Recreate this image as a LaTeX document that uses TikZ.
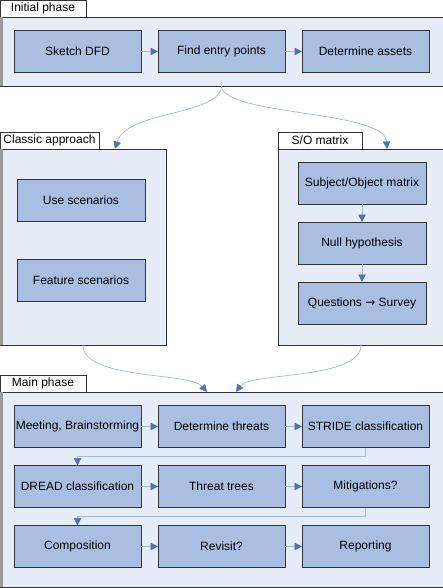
\documentclass[tikz,border=0pt]{standalone}
\usepackage{fontspec}
\setmainfont{Liberation Sans}
\newfontfamily\arrowfont{DejaVu Sans}
\usetikzlibrary{positioning,arrows.meta}
\definecolor{boxfill}{HTML}{A9BFE2}
\definecolor{panelfill}{HTML}{E7EDF7}
\definecolor{linecol}{HTML}{A3BADB}
\definecolor{tipcol}{HTML}{4A74BC}
\definecolor{edgecol}{HTML}{333333}
\definecolor{sidecol}{HTML}{9A9A9A}

\tikzset{
  stage/.style={draw=edgecol, line width=0.9pt, fill=boxfill, minimum width=127pt, minimum height=42pt, inner sep=1pt, outer sep=0pt, font=\fontsize{12}{14}\selectfont},
  panel/.style={draw=edgecol, line width=0.9pt, fill=panelfill, anchor=north west, inner sep=0pt, outer sep=0pt},
  tab/.style={draw=edgecol, line width=0.8pt, fill=white, anchor=south west, minimum height=17pt, inner sep=0pt, outer sep=0pt, font=\fontsize{12}{14}\selectfont},
  side/.style={draw=sidecol, line width=5pt},
  flow/.style={draw=linecol, line width=0.7pt, -{Triangle[length=7.5pt,width=7.5pt,color=tipcol]}}
}

\begin{document}
\begin{tikzpicture}[x=1pt, y=-1pt, node distance=17pt]
    \useasboundingbox (0,0) rectangle (443,588);
    \clip (0,0) rectangle (443,588);

    % Panels and their tabs
    \node (initpanel) [panel, minimum width=446pt, minimum height=69pt] at (0,17) {};
    \node (inittab) [tab, minimum width=86pt] at (0,17) {Initial phase};
    \node (classicpanel) [panel, minimum width=166pt, minimum height=196pt] at (0,149) {};
    \node (classictab) [tab, minimum width=99pt] at (0,149) {Classic approach};
    \node (sopanel) [panel, minimum width=166pt, minimum height=196pt] at (278,149) {};
    \node (sotab) [tab, minimum width=84pt] at (278,149) {S/O matrix};
    \node (mainpanel) [panel, minimum width=446pt, minimum height=195pt] at (0,392) {};
    \node (maintab) [tab, minimum width=86pt] at (0,392) {Main phase};
    \draw[side] (initpanel.north west) -- (initpanel.south west);
    \draw[side] (classicpanel.north west) -- (classicpanel.south west);
    \draw[side] (mainpanel.north west) -- (mainpanel.south west);

    % Initial phase
    \node (sketch) [stage] at (77.5,51.5) {Sketch DFD};
    \node (entry) [stage, right=of sketch] {Find entry points};
    \node (assets) [stage, right=of entry] {Determine assets};

    % Classic approach
    \node (use) [stage, minimum width=128pt] at (81,200.5) {Use scenarios};
    \node (feature) [stage, minimum width=128pt, below=38pt of use] {Feature scenarios};

    % S/O matrix
    \node (subject) [stage, minimum width=128pt] at (362,183) {Subject/Object matrix};
    \node (nullhyp) [stage, minimum width=128pt, below=18pt of subject] {Null hypothesis};
    \node (survey) [stage, minimum width=128pt, below=18pt of nullhyp] {Questions {\arrowfont →} Survey};

    % Main phase
    \node (meeting) [stage] at (77.5,426.5) {Meeting, Brainstorming};
    \node (threats) [stage, right=of meeting] {Determine threats};
    \node (stride) [stage, right=of threats] {STRIDE classification};
    \node (dread) [stage, below=18pt of meeting] {DREAD classification};
    \node (trees) [stage, right=of dread] {Threat trees};
    \node (mitig) [stage, right=of trees] {Mitigations?};
    \node (compo) [stage, below=18pt of dread] {Composition};
    \node (revisit) [stage, right=of compo] {Revisit?};
    \node (report) [stage, right=of revisit] {Reporting};

    % Arrows
    \draw[flow] (sketch) -- (entry);
    \draw[flow] (entry) -- (assets);
    \draw[flow] (subject) -- (nullhyp);
    \draw[flow] (nullhyp) -- (survey);
    \draw[flow] (meeting) -- (threats);
    \draw[flow] (threats) -- (stride);
    \draw[flow] (stride.south) -- ++(0,9) -| (dread.north);
    \draw[flow] (dread) -- (trees);
    \draw[flow] (trees) -- (mitig);
    \draw[flow] (mitig.south) -- ++(0,9) -| (compo.north);
    \draw[flow] (compo) -- (revisit);
    \draw[flow] (revisit) -- (report);

    % Curved links between the phases
    \coordinate (split) at (entry.south |- initpanel.south);
    \coordinate (classicin) at (115,149);
    \coordinate (soin) at (387,149);
    \coordinate (mainleft) at (207,392);
    \coordinate (mainright) at (236,392);
    \draw[flow] (split) .. controls +(-2,30) and +(12,-39) .. (classicin);
    \draw[flow] (split) .. controls +(2,30) and +(-2,-39) .. (soin);
    \draw[flow] (classicpanel.south) .. controls +(0,35) and +(-17,-20) .. (mainleft);
    \draw[flow] (sopanel.south) .. controls +(0,35) and +(14,-20) .. (mainright);
\end{tikzpicture}
\end{document}
